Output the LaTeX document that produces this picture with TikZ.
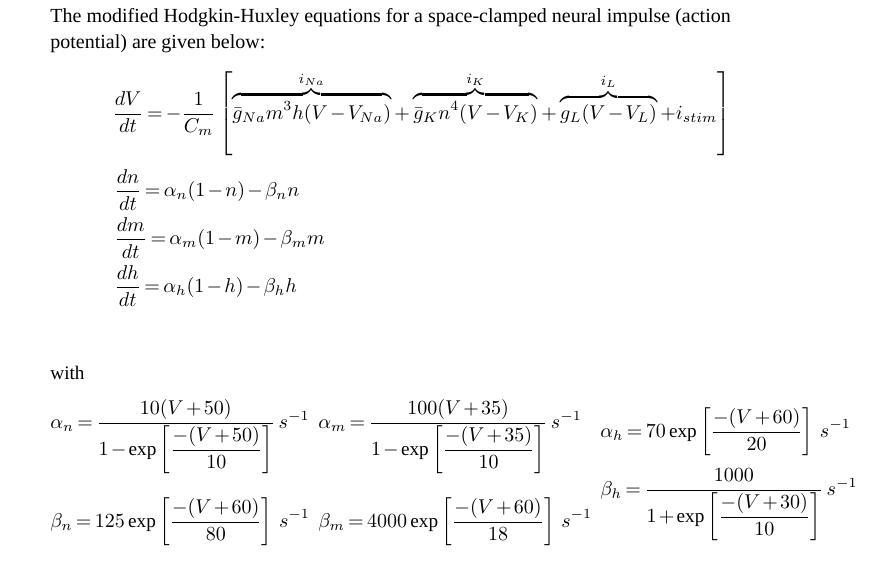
\documentclass[tikz,border=0pt]{standalone}
\usepackage{amsmath}
\usepackage{fontspec}
\setmainfont{Liberation Serif}
\medmuskip=2mu plus 1mu minus 2mu
\thickmuskip=3mu plus 2mu
\tikzset{eqn/.style={anchor=west, inner sep=0pt, font=\fontsize{9.6}{12}\selectfont},
         para/.style={anchor=north west, inner sep=0pt, align=left, font=\fontsize{10}{13}\selectfont}}
\newcommand{\unitS}{\,s^{-1}}
\begin{document}
\begin{tikzpicture}[x=0.5pt, y=-0.5pt]
    \useasboundingbox (0,0) rectangle (872,573);
    \node[para] (intro) at (50,8) {The modified Hodgkin-Huxley equations for a space-clamped neural impulse (action\\potential) are given below:};
    \node[eqn] (eq_v) at (112,114) {$\displaystyle \frac{dV}{dt}=-\frac{1}{C_m}\left[\overbrace{\bar g_{Na}m^3h(V-V_{Na})}^{i_{Na}}+\overbrace{\bar g_K n^4(V-V_K)}^{i_K}+\overbrace{g_L(V-V_L)}^{i_L}+i_{stim}\right]$};
    \node[eqn] (eq_n) at (114,190) {$\displaystyle \frac{dn}{dt}=\alpha_n(1-n)-\beta_n n$};
    \node[eqn] (eq_m) at (114,238) {$\displaystyle \frac{dm}{dt}=\alpha_m(1-m)-\beta_m m$};
    \node[eqn] (eq_h) at (114,286) {$\displaystyle \frac{dh}{dt}=\alpha_h(1-h)-\beta_h h$};
    \node[eqn] (with) at (50,373) {with};
    \node[eqn] (alpha_n) at (50,437) {$\displaystyle \alpha_n=\frac{10(V+50)}{1-\exp\left[\dfrac{-(V+50)}{10}\right]}\unitS$};
    \node[eqn] (alpha_m) at (318,437) {$\displaystyle \alpha_m=\frac{100(V+35)}{1-\exp\left[\dfrac{-(V+35)}{10}\right]}\unitS$};
    \node[eqn] (alpha_h) at (600,432) {$\displaystyle \alpha_h=70\exp\left[\frac{-(V+60)}{20}\right]\unitS$};
    \node[eqn] (beta_n) at (50,522) {$\displaystyle \beta_n=125\exp\left[\frac{-(V+60)}{80}\right]\unitS$};
    \node[eqn] (beta_m) at (318,522) {$\displaystyle \beta_m=4000\exp\left[\frac{-(V+60)}{18}\right]\unitS$};
    \node[eqn] (beta_h) at (600,505) {$\displaystyle \beta_h=\frac{1000}{1+\exp\left[\dfrac{-(V+30)}{10}\right]}\unitS$};
\end{tikzpicture}
\end{document}
